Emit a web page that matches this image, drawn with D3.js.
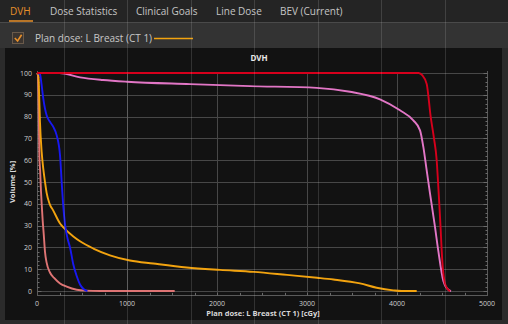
<!DOCTYPE html>
<html><head><meta charset="utf-8">
<script src="https://cdn.jsdelivr.net/npm/d3@7"></script>
<style>
html,body{margin:0;padding:0;background:#2b2b2b;}
svg{display:block;}
</style></head>
<body>
<svg id="c" width="508" height="324"></svg>
<script>
// ---------- data ----------
const tabs = ["DVH","Dose Statistics","Clinical Goals","Line Dose","BEV (Current)"];
const legendLabel = "Plan dose: L Breast (CT 1)";
const chartTitle = "DVH";
const xTitle = "Plan dose: L Breast (CT 1) [cGy]";
const yTitle = "Volume [%]";
const xTicks = [0,1000,2000,3000,4000,5000];
const yTicks = [0,10,20,30,40,50,60,70,80,90,100];

// dose (cGy), volume (%)
const salmonDose = [0,10,20,26,35,44,52,62,75,89,107,144,190,256,330,441,550,700,1033,1530];
const salmonVol  = [100,99,80,62,55,46,40,33,26,18,13,8.5,6,3.5,2,0.6,0.2,0.05,0,0];

const orangeDose = [0,15,25,33,52,70,89,107,140,181,256,293,404,478,626,811,1033,1293,1663,2033,2407,2778,3111,3293,3589,3774,3959,4050,4219];
const orangeVol  = [100,99,88,77.6,63.7,56,50,45,40,36.9,31,29.2,25,22.8,19.5,16.4,14,12.6,10.8,9.7,8.8,7.4,6.1,5.3,3.5,1.5,0.3,0,0];

const blueDose = [0,33,50,70,107,144,181,219,256,274,290,311,340,367,403,440,478,520,560];
const blueVol  = [100,99.5,95,88.3,80.6,77.6,75.3,71.4,62.2,50,40,30.7,24,20,12.3,7,3,0.8,0];

const pinkDose = [0,250,478,733,1000,1700,2367,3107,3478,3811,4033,4181,4256,4293,4330,4367,4420,4459,4515,4560,4600];
const pinkVol  = [100,100,98,96.8,96,94.9,94,93.2,91.4,87.9,82.9,78.3,73.7,66,55.3,44.7,30,18.4,4.6,1,0];

const redDose = [0,4240,4280,4330,4374,4411,4441,4456,4470,4483,4496,4510,4530,4560,4590];
const redVol  = [100,100,99,95,80,70,60,50,40,30,19,10,4,1,0];

const series = [
  {name:"salmon", color:"#de7474", dose:salmonDose, vol:salmonVol},
  {name:"orange", color:"#f2a30f", dose:orangeDose, vol:orangeVol},
  {name:"blue",   color:"#1818f0", dose:blueDose,   vol:blueVol},
  {name:"pink",   color:"#e276c6", dose:pinkDose,   vol:pinkVol},
  {name:"red",    color:"#d6001c", dose:redDose,    vol:redVol}
];

// ---------- layout ----------
const svg = d3.select("#c");
const W = 508, H = 324;
const FONT = "'Open Sans','Noto Sans',sans-serif";

svg.append("rect").attr("width",W).attr("height",H).attr("fill","#2b2b2b");
// tab bar
svg.append("rect").attr("x",0).attr("y",0).attr("width",W).attr("height",22).attr("fill","#242424");
svg.append("line").attr("x1",0).attr("x2",W).attr("y1",22.5).attr("y2",22.5).attr("stroke","#4a4a4a");
const tabX = [10,50,136,216,280];
tabs.forEach((t,i)=>{
  svg.append("text").attr("x",tabX[i]).attr("y",15).text(t)
    .attr("font-family",FONT).attr("font-size",10)
    .attr("fill", i===0 ? "#e8902a" : "#c4c4c4");
});
svg.append("line").attr("x1",9).attr("x2",33).attr("y1",21).attr("y2",21).attr("stroke","#e8902a").attr("stroke-width",1.5);

// legend bar
svg.append("rect").attr("x",0).attr("y",23).attr("width",W).attr("height",25).attr("fill","#333333");
svg.append("rect").attr("x",12.5).attr("y",32.5).attr("width",11).attr("height",11).attr("fill","#3c3530").attr("stroke","#6a5a4a");
svg.append("path").attr("d","M14.8,38 L17.6,41 L21.6,34.8").attr("fill","none").attr("stroke","#e8902a").attr("stroke-width",1.6);
svg.append("text").attr("x",35).attr("y",42).text(legendLabel)
  .attr("font-family",FONT).attr("font-size",10).attr("fill","#c8c8c8");
svg.append("line").attr("x1",154).attr("x2",193).attr("y1",38.5).attr("y2",38.5).attr("stroke","#f2a30f").attr("stroke-width",1.5);

// chart panel
svg.append("rect").attr("x",5).attr("y",48).attr("width",497).attr("height",272).attr("fill","#121212");

const x = d3.scaleLinear().domain([0,5000]).range([37,487]);
const y = d3.scaleLinear().domain([-2,100]).range([295.4,73]);

svg.append("text").attr("x",259).attr("y",61).attr("text-anchor","middle").text(chartTitle)
  .attr("font-family",FONT).attr("font-size",8).attr("font-weight","bold").attr("fill","#e8e8e8");

// grid
const g = svg.append("g");
g.selectAll("line.hg").data(yTicks).join("line")
  .attr("x1",x(0)).attr("x2",x(5000)).attr("y1",d=>Math.round(y(d))+0.5).attr("y2",d=>Math.round(y(d))+0.5)
  .attr("stroke","#474747");
g.selectAll("line.vg").data(xTicks.slice(1,-1)).join("line")
  .attr("x1",d=>Math.round(x(d))+0.5).attr("x2",d=>Math.round(x(d))+0.5).attr("y1",y(100)).attr("y2",y(-2))
  .attr("stroke","#474747");

// frame
g.append("line").attr("x1",37.5).attr("x2",37.5).attr("y1",y(100)-2).attr("y2",y(-2)).attr("stroke","#5a5a5a");
g.append("line").attr("x1",487.5).attr("x2",487.5).attr("y1",y(100)-2).attr("y2",y(-2)).attr("stroke","#5a5a5a");
g.append("line").attr("x1",37).attr("x2",488).attr("y1",Math.round(y(-2))+0.5).attr("y2",Math.round(y(-2))+0.5).attr("stroke","#5a5a5a");

// minor ticks
const yMinor = d3.range(0,101,2);
g.selectAll("line.ylm").data(yMinor).join("line")
  .attr("x1",37.5).attr("x2",d=>d%10===0?41.5:39.5).attr("y1",d=>Math.round(y(d))+0.5).attr("y2",d=>Math.round(y(d))+0.5).attr("stroke","#6a6a6a");
g.selectAll("line.yrm").data(yMinor).join("line")
  .attr("x1",487.5).attr("x2",d=>d%10===0?483.5:485.5).attr("y1",d=>Math.round(y(d))+0.5).attr("y2",d=>Math.round(y(d))+0.5).attr("stroke","#6a6a6a");
const xMinor = d3.range(250,5000,250);
g.selectAll("line.xm").data(xMinor).join("line")
  .attr("x1",d=>Math.round(x(d))+0.5).attr("x2",d=>Math.round(x(d))+0.5).attr("y1",y(-2)).attr("y2",y(-2)-2.5).attr("stroke","#6a6a6a");

// tick labels
g.selectAll("text.yl").data(yTicks).join("text")
  .attr("x",32).attr("y",d=>y(d)+2.5).attr("text-anchor","end").text(d=>d)
  .attr("font-family",FONT).attr("font-size",7).attr("fill","#d0d0d0");
g.selectAll("text.xl").data(xTicks).join("text")
  .attr("x",d=>x(d)).attr("y",306).attr("text-anchor","middle").text(d=>d)
  .attr("font-family",FONT).attr("font-size",7).attr("fill","#d0d0d0");

svg.append("text").attr("x",263).attr("y",316).attr("text-anchor","middle").text(xTitle)
  .attr("font-family",FONT).attr("font-size",7.5).attr("font-weight","bold").attr("fill","#d8d8d8");
svg.append("text").attr("transform","translate(15,182) rotate(-90)").attr("text-anchor","middle").text(yTitle)
  .attr("font-family",FONT).attr("font-size",7.5).attr("font-weight","bold").attr("fill","#d8d8d8");

// curves
const line = d3.line().x(d=>x(d[0])).y(d=>y(d[1])).curve(d3.curveMonotoneX);
series.forEach(s=>{
  const pts = s.dose.map((d,i)=>[d,s.vol[i]]);
  svg.append("path").attr("d",line(pts)).attr("fill","none")
    .attr("stroke",s.color).attr("stroke-width",1.9).attr("stroke-linejoin","round");
});

// faint screen overlay lines
const overlay = d3.range(1,8).map(k=>k*W/8);
svg.selectAll("line.ov").data(overlay).join("line")
  .attr("x1",d=>Math.round(d)+0.5).attr("x2",d=>Math.round(d)+0.5).attr("y1",0).attr("y2",H)
  .attr("stroke","rgba(200,200,200,0.18)");
</script>
</body></html>
